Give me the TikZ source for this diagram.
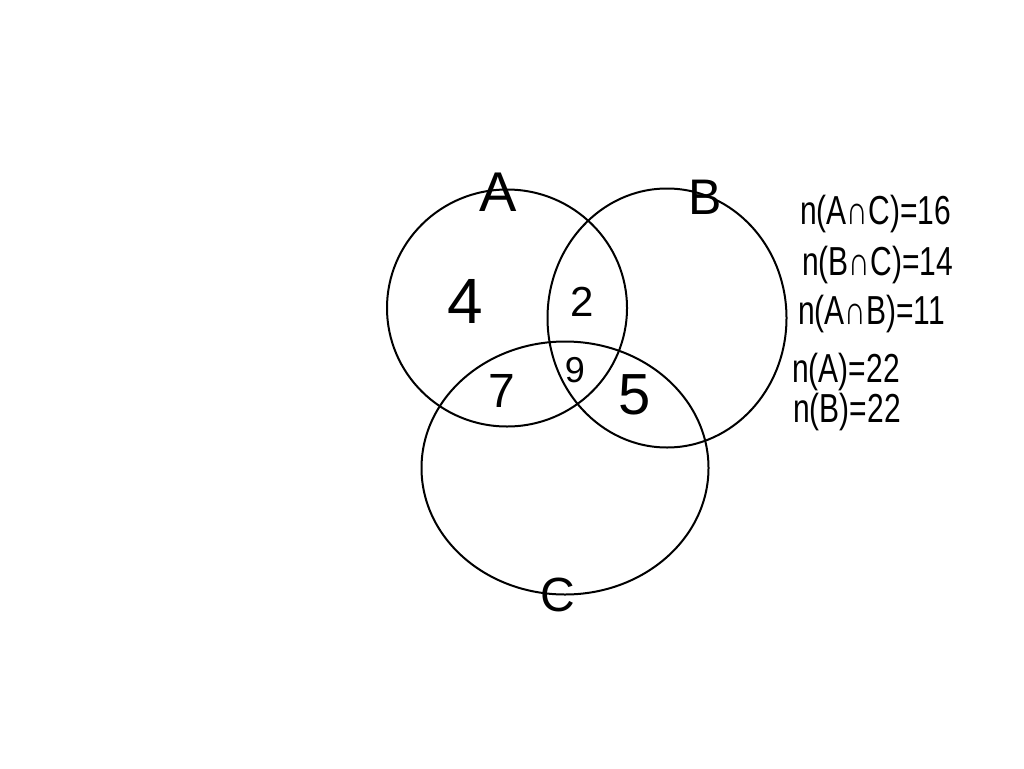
\documentclass[tikz,border=0pt]{standalone}
\usepackage{fontspec}
\usepackage{graphicx}
\setmainfont{Liberation Sans}
\usetikzlibrary{shapes.geometric}
\tikzset{
  setshape/.style={draw=black, ellipse, line width=2pt, inner sep=0pt},
  num/.style={inner sep=0pt, text=black},
  eqn/.style={inner sep=0pt, anchor=west, text=black, font=\fontsize{30}{30}\selectfont}
}
\newcommand{\tallx}[1]{\scalebox{1}[1.35]{#1}}
\begin{document}
\begin{tikzpicture}[x=1pt,y=-1pt]
\fill[white] (0,0) rectangle (1024,768);
\useasboundingbox (0,0) rectangle (1024,768);
% sets
\node[setshape, minimum width=240pt, minimum height=237pt] (A) at (507,308) {};
\node[setshape, minimum width=239pt, minimum height=259pt] (B) at (667,318) {};
\node[setshape, minimum width=287pt, minimum height=253pt] (C) at (565,468) {};
% set labels
\node[num, font=\fontsize{56}{56}\selectfont] (la) at (498,192) {A};
\node[num, font=\fontsize{50}{50}\selectfont] (lb) at (705,197) {B};
\node[num, font=\fontsize{48}{48}\selectfont] (lc) at (558,595) {C};
% region counts
\node[num, font=\fontsize{64}{64}\selectfont] (n4) at (465,301) {4};
\node[num, font=\fontsize{42}{42}\selectfont] (n2) at (582,302) {2};
\node[num, font=\fontsize{36}{36}\selectfont] (n9) at (575,370) {9};
\node[num, font=\fontsize{48}{48}\selectfont] (n7) at (502,391) {7};
\node[num, font=\fontsize{58}{58}\selectfont] (n5) at (635,395) {5};
% given data
\node[eqn] (e1) at (800,214) {\tallx{n(A∩C)=16}};
\node[eqn] (e2) at (802,265) {\tallx{n(B∩C)=14}};
\node[eqn] (e3) at (798,314) {\tallx{n(A∩B)=11}};
\node[eqn] (e4) at (792,372) {\tallx{n(A)=22}};
\node[eqn] (e5) at (793,412) {\tallx{n(B)=22}};
\end{tikzpicture}
\end{document}
